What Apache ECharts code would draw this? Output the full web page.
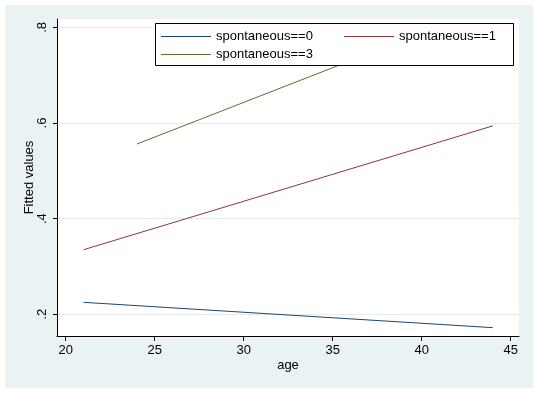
<!DOCTYPE html>
<html>
<head>
<meta charset="utf-8">
<script src="https://cdn.jsdelivr.net/npm/echarts@6/dist/echarts.min.js"></script>
<style>
html,body{margin:0;padding:0;background:#fff;}
#main{width:538px;height:394px;}
</style>
</head>
<body>
<div id="main"></div>
<script>
// ---- data ----
const ages0 = [21, 44];
const fit0 = [0.225, 0.172];
const ages1 = [21, 44];
const fit1 = [0.335, 0.594];
const ages3 = [24, 40];
const fit3 = [0.556, 0.788];
const seriesNames = ['spontaneous==0', 'spontaneous==1', 'spontaneous==3'];
const xTicks = [20, 25, 30, 35, 40, 45];
const yTicks = [0.2, 0.4, 0.6, 0.8];
const yTickLabels = ['.2', '.4', '.6', '.8'];
const xTitle = 'age';
const yTitle = 'Fitted values';

const zip = (a, b) => a.map((v, i) => [v, b[i]]);
const FONT = 'Liberation Sans, Arial, sans-serif';
const colors = ['#1a476f', '#90353b', '#55752f'];

const chart = echarts.init(document.getElementById('main'), null, {renderer: 'canvas'});
const lineSeries = (name, data, color) => ({
  name: name, type: 'line', data: data, symbol: 'none', showSymbol: false,
  lineStyle: {color: color, width: 1}, itemStyle: {color: color},
  emphasis: {disabled: true}, z: 2
});
const legendCommon = {
  orient: 'vertical', top: 29.5, padding: 0, itemGap: 4,
  itemWidth: 50, itemHeight: 1.2, itemTextGap: 7, icon: 'rect', z: 20,
  textStyle: {fontFamily: FONT, fontSize: 13, color: '#000', lineHeight: 14},
  selectedMode: false
};
chart.setOption({
  animation: false,
  backgroundColor: '#ffffff',
  graphic: [
    {type: 'rect', z: -1, silent: true, shape: {x: 5, y: 5, width: 528, height: 383}, style: {fill: '#eaf2f3'}},
    {type: 'rect', z: 10, silent: true, shape: {x: 155.5, y: 23.5, width: 358, height: 42}, style: {fill: '#ffffff', stroke: '#000', lineWidth: 1}}
  ],
  grid: {left: 57, right: 19, top: 19, bottom: 58, show: true, backgroundColor: '#ffffff', borderWidth: 0},
  legend: [
    Object.assign({}, legendCommon, {left: 161, data: [seriesNames[0], seriesNames[2]]}),
    Object.assign({}, legendCommon, {left: 344, data: [seriesNames[1]]})
  ],
  xAxis: {
    type: 'value', min: 19.51, max: 45.47,
    name: xTitle, nameLocation: 'middle', nameGap: 23, nameMoveOverlap: false,
    nameTextStyle: {fontFamily: FONT, fontSize: 13, color: '#000'},
    axisLine: {show: true, onZero: false, lineStyle: {color: '#000', width: 1}},
    axisTick: {show: true, length: 5, customValues: xTicks, lineStyle: {color: '#000'}},
    axisLabel: {customValues: xTicks, margin: 8, fontFamily: FONT, fontSize: 13, color: '#000'},
    splitLine: {show: false}
  },
  yAxis: {
    type: 'value', min: 0.1546, max: 0.8174,
    name: yTitle, nameLocation: 'middle', nameGap: 21, nameRotate: 90, nameMoveOverlap: false,
    nameTextStyle: {fontFamily: FONT, fontSize: 13, color: '#000'},
    axisLine: {show: true, onZero: false, lineStyle: {color: '#000', width: 1}},
    axisTick: {show: true, length: 4, customValues: yTicks, lineStyle: {color: '#000'}},
    axisLabel: {
      customValues: yTicks, rotate: 90, margin: 8, fontFamily: FONT, fontSize: 13, color: '#000',
      formatter: v => { const i = yTicks.findIndex(t => Math.abs(t - v) < 1e-9); return i >= 0 ? yTickLabels[i] : ''; }
    },
    splitLine: {show: true, lineStyle: {color: '#e3ecee', width: 1}}
  },
  series: [
    lineSeries(seriesNames[0], zip(ages0, fit0), colors[0]),
    lineSeries(seriesNames[1], zip(ages1, fit1), colors[1]),
    lineSeries(seriesNames[2], zip(ages3, fit3), colors[2])
  ]
});
</script>
</body>
</html>
